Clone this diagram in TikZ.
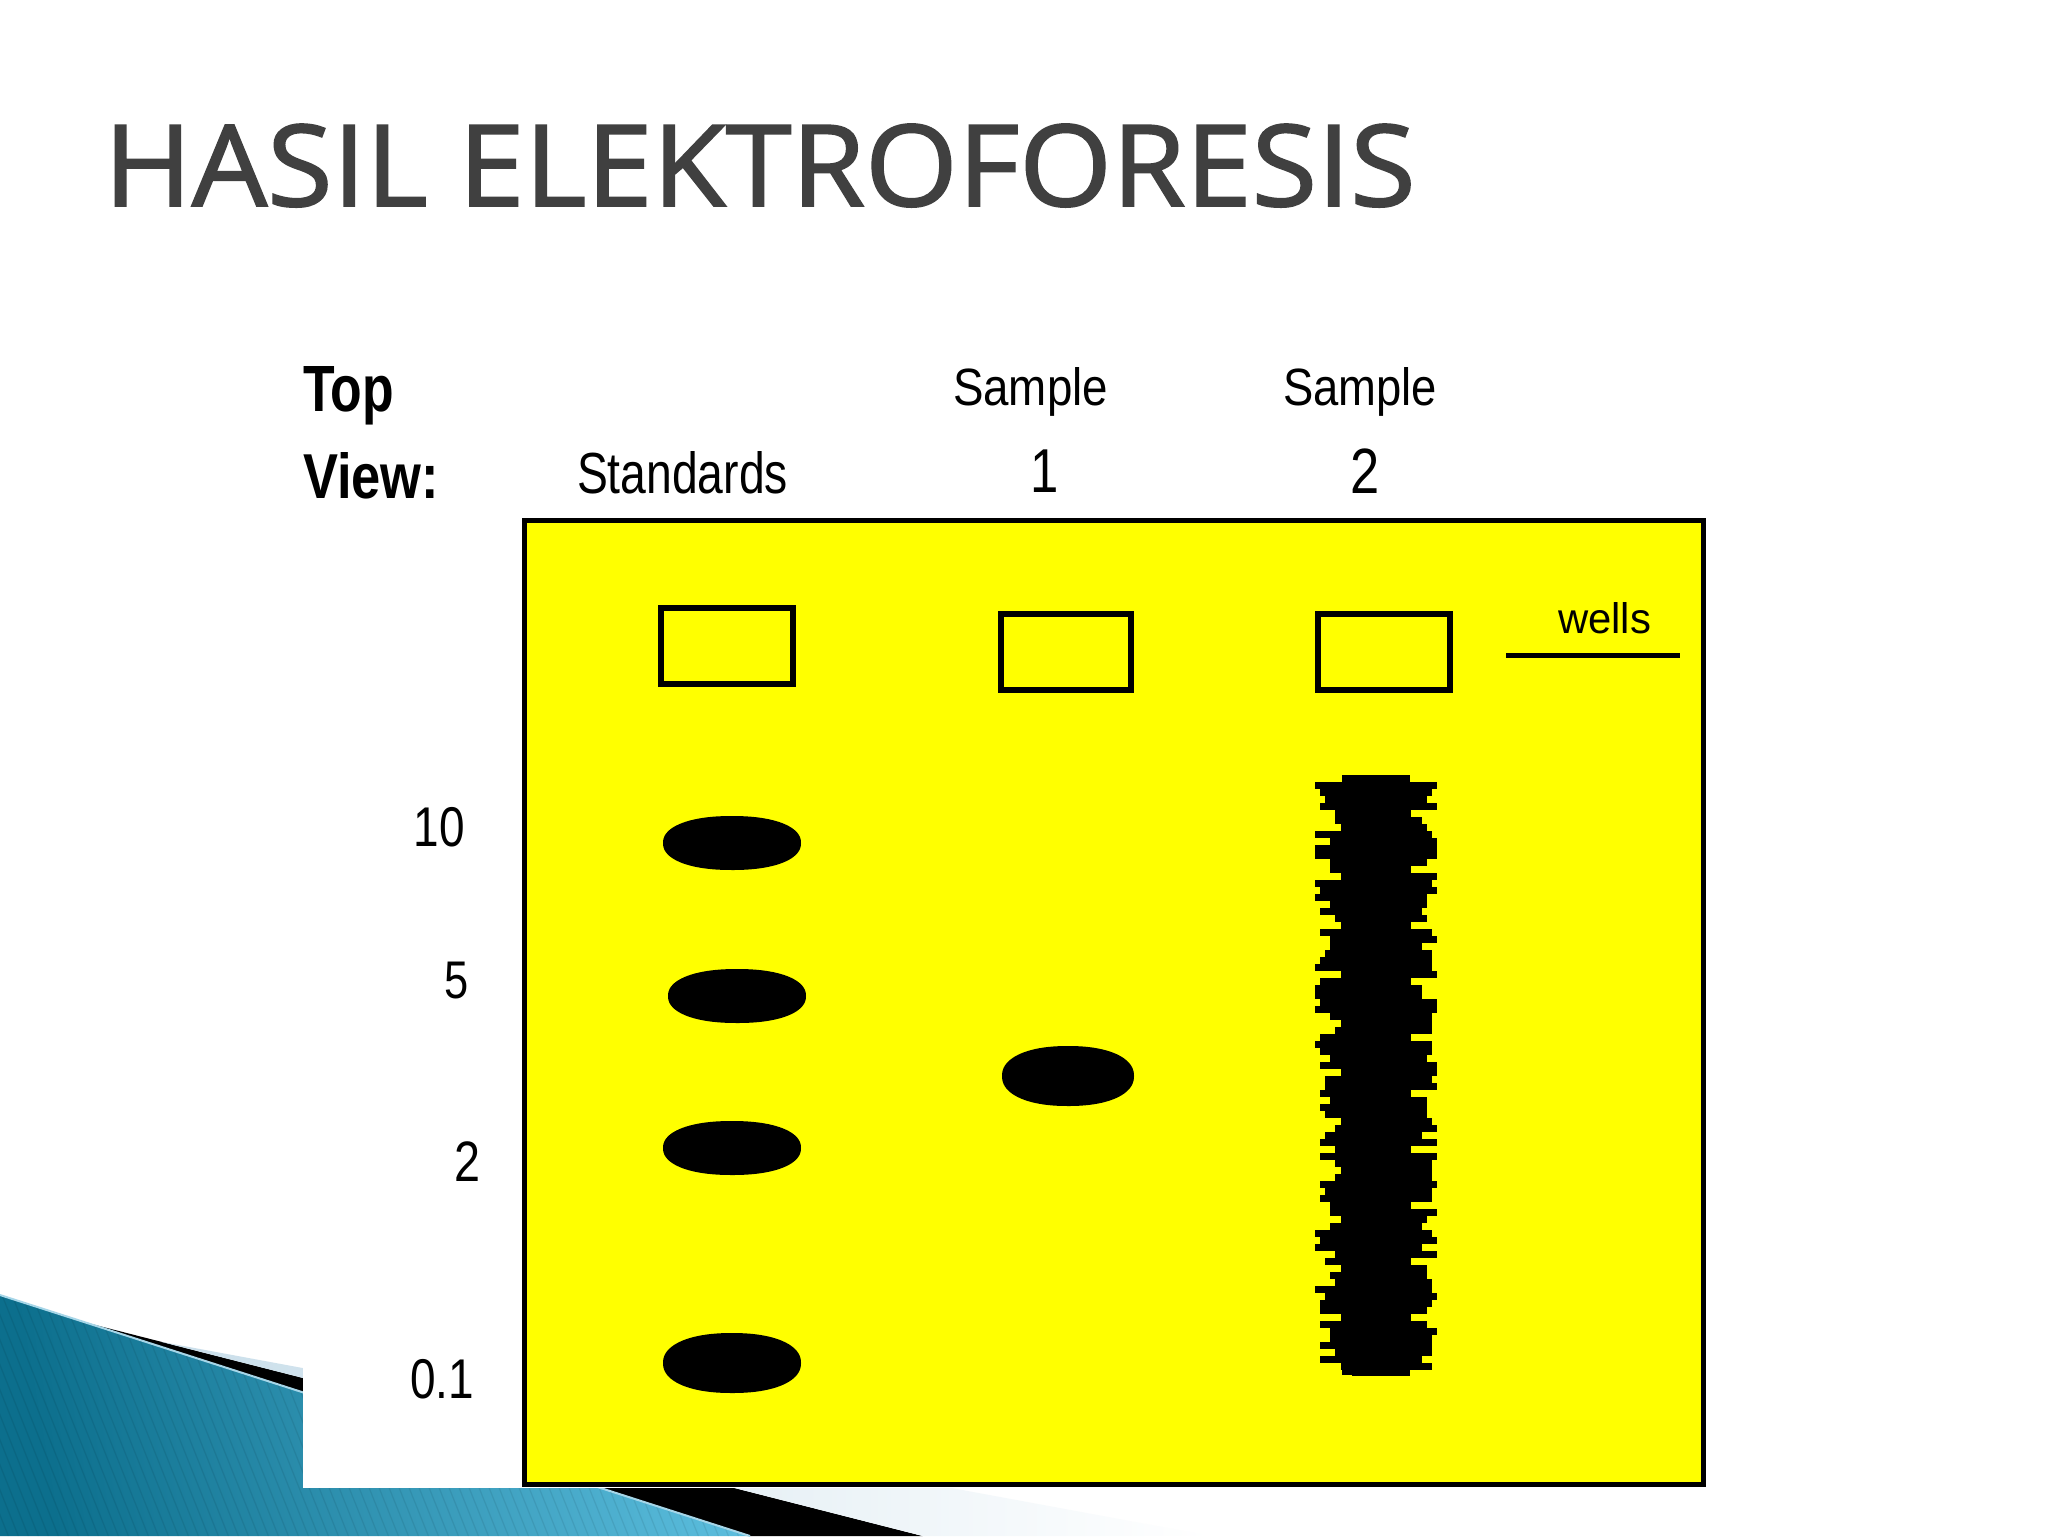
\documentclass[tikz,border=0pt]{standalone}
\usepackage{fontspec}
\setmainfont{Liberation Sans}
\newfontfamily\titlefont[FakeBold=1.6]{Open Sans}
\usepackage{graphicx}
\definecolor{gelyellow}{HTML}{FFFF00}
\definecolor{tealdark}{HTML}{0C6F8D}
\definecolor{teallight}{HTML}{5CBEDE}
\definecolor{paleblue}{HTML}{C9DEEA}
\definecolor{hilite}{HTML}{A6D6E8}
\definecolor{titlegray}{HTML}{404040}
\tikzset{
  lbl/.style={anchor=base west, inner sep=0pt, outer sep=0pt, text=black},
  dig/.style={anchor=base, inner sep=0pt, outer sep=0pt, text=black},
  wellbox/.style={draw=black, line width=3pt, fill=gelyellow, inner sep=0pt, minimum height=38pt},
}
\newcommand\fitto[3]{\resizebox{#1pt}{#2pt}{#3}}
\newcommand\digit[2]{\scalebox{0.82}[1]{\fontsize{#1}{#1}\selectfont #2}}
% band: name, cx, cy, rx, ry
\newcommand\bandat[5]{%
  \coordinate (#1) at (#2,#3);
  \fill[black, shift={(#1)}] plot[domain=0:360, samples=90]
    ({#4*(cos(\x)>=0 ? 1 : -1)*abs(cos(\x))^0.9},
     {#5*(sin(\x)>=0 ? 1 : -1)*abs(sin(\x))^0.9}) -- cycle;}
\begin{document}
\begin{tikzpicture}[x=0.5pt,y=-0.5pt]
\useasboundingbox (0,0) rectangle (2048,1536);
\fill[white] (0,0) rectangle (2048,1536);

% --- bottom-left decoration ---
\begin{scope}
  \clip (0,1295) -- (750,1536) -- (0,1536) -- cycle;
  \shade[left color=tealdark, right color=teallight, shading angle=100] (0,1290) rectangle (760,1536);
  \foreach \k in {-60,...,80} {
    \draw[black, opacity=0.08, line width=0.6pt] (\k*10,1290) -- ++(100,250);
  }
\end{scope}
\fill[black] (86,1322.6) -- (922.7,1536) -- (750,1536) -- cycle;
\shade[left color=paleblue, right color=white] (161,1341.8) -- (1211,1536) -- (922.7,1536) -- cycle;
\draw[hilite, line width=1pt] (0,1295) -- (750,1536);

% --- white image background ---
\fill[white] (303,300) rectangle (1712,1488);

% --- title ---
\node[lbl, text=titlegray] (title) at (104,206) {\fitto{655.5}{41}{\titlefont HASIL ELEKTROFORESIS}};

% --- header labels ---
\node[lbl] (top) at (303,411) {\fitto{45.5}{22.5}{\bfseries Top}};
\node[lbl] (view) at (303,498) {\fitto{68}{23}{\bfseries View:}};
\node[lbl] (standards) at (577,493) {\fitto{105.5}{21}{Standards}};
\node[lbl] (sample1) at (953,405) {\fitto{77.5}{19}{Sample}};
\node[lbl] (sample2) at (1283,405) {\fitto{77}{19}{Sample}};
\node[dig] (one) at (1045,492) {\digit{31pt}{1}};
\node[dig] (two) at (1365,493) {\digit{32pt}{2}};

% --- size labels ---
\node[dig] (l10) at (439.5,846) {\digit{28pt}{10}};
\node[dig] (l5) at (456.5,998) {\digit{26.5pt}{5}};
\node[dig] (l2) at (467,1181) {\digit{28.5pt}{2}};
\node[dig] (l01) at (442,1398) {\digit{28pt}{0.1}};

% --- gel ---
\node[draw=black, line width=2.5pt, fill=gelyellow, inner sep=0pt,
      minimum width=589.5pt, minimum height=482pt] (gel) at (1113.5,1002) {};

% --- wells ---
\node[wellbox, minimum width=66pt] (w1) at (727,646) {};
\node[wellbox, minimum width=65pt] (w2) at (1066,652) {};
\node[wellbox, minimum width=66pt] (w3) at (1384,652) {};
\node[lbl] (wells) at (1558,633) {\fitto{46.5}{15.5}{wells}};
\coordinate (wl) at (1506,655);
\coordinate (wr) at (1680,655);
\draw[line width=2.5pt] (wl) -- (wr);

% --- standard bands ---
\bandat{b10}{732}{843}{69}{27}
\bandat{b5}{737}{996}{69}{27}
\bandat{b2}{732}{1148}{69}{27}
\bandat{b01}{732}{1363}{69}{30}

% --- sample 1 band ---
\bandat{s1}{1068}{1076}{66}{30}

% --- sample 2 smear ---
\pgfmathsetseed{5}
\coordinate (smear) at (1376,1075);
\fill[black] (1342,775) rectangle (1410,1375);
\foreach \i in {1,...,84} {
  \pgfmathsetmacro\yy{775+\i*7}
  \pgfmathtruncatemacro\ml{mod(\i,7)}
  \pgfmathtruncatemacro\mr{mod(\i+3,8)}
  \ifnum\ml=0
    \pgfmathsetmacro\lx{1341}
  \else
    \pgfmathsetmacro\lx{1315+5*random(0,4)}
  \fi
  \ifnum\mr=0
    \pgfmathsetmacro\rx{1411}
  \else
    \pgfmathsetmacro\rx{1437-5*random(0,3)}
  \fi
  \fill[black] (\lx,\yy) rectangle (1350,\yy+7.4);
  \fill[black] (1400,\yy) rectangle (\rx,\yy+7.4);
}
\fill[black] (1352,1368) rectangle (1410,1376);
\end{tikzpicture}
\end{document}
